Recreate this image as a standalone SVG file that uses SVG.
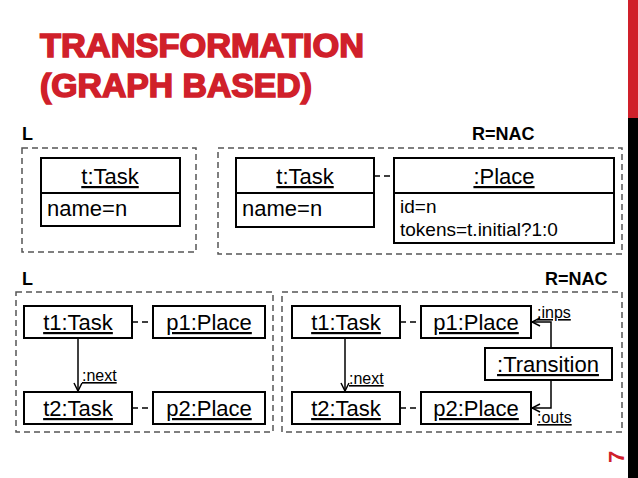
<svg xmlns="http://www.w3.org/2000/svg" width="638" height="478" viewBox="0 0 638 478">
<style>
.t{font-family:"Liberation Sans",Arial,sans-serif;fill:#000}
.n{font-size:22px}
.s{font-size:16px}
.m{font-size:19px}
.b{fill:#fff;stroke:#000;stroke-width:2}
.d{fill:none;stroke:#555;stroke-width:1.5;stroke-dasharray:6,4}
.c{fill:none;stroke:#000;stroke-width:1.5}
.cd{fill:none;stroke:#000;stroke-width:1.5;stroke-dasharray:6,4}
.ttl{font-family:"Liberation Sans",Arial,sans-serif;font-weight:bold;font-size:34px;fill:#d0202a;stroke:#d0202a;stroke-width:1.6}
.lb{font-family:"Liberation Sans",Arial,sans-serif;font-weight:bold;font-size:18px}
</style>
<defs><marker id="a" markerWidth="10" markerHeight="10" refX="9" refY="5" orient="auto" markerUnits="userSpaceOnUse"><path d="M1,1 L9,5 L1,9" fill="none" stroke="#000" stroke-width="1.5"/></marker></defs>
<rect width="638" height="478" fill="#fff"/>
<rect x="628" y="0" width="10" height="118" fill="#d0202a"/>
<rect x="628" y="118" width="10" height="360" fill="#000"/>
<text class="ttl" x="40" y="57" textLength="324" lengthAdjust="spacingAndGlyphs">TRANSFORMATION</text>
<text class="ttl" x="40" y="97" textLength="272" lengthAdjust="spacingAndGlyphs">(GRAPH BASED)</text>
<text x="624" y="463" transform="rotate(-90 624 463)" font-family="Liberation Sans,sans-serif" font-weight="bold" font-size="22" fill="#d0202a">7</text>
<text class="lb" x="22" y="140">L</text>
<text class="lb" x="472" y="140">R=NAC</text>
<text class="lb" x="22" y="285">L</text>
<text class="lb" x="545" y="285">R=NAC</text>
<rect class="d" x="22" y="148" width="174" height="104"/>
<rect class="d" x="218" y="148" width="404" height="106"/>
<rect class="d" x="16" y="292" width="257" height="140"/>
<rect class="d" x="282" y="292" width="340" height="140"/>
<g id="connectors">
<line class="cd" x1="374" y1="176" x2="394" y2="176"/>
<line class="cd" x1="132" y1="322" x2="153" y2="322"/>
<line class="cd" x1="132" y1="408" x2="153" y2="408"/>
<line class="cd" x1="400" y1="322" x2="421" y2="322"/>
<line class="cd" x1="400" y1="408" x2="421" y2="408"/>
<line class="c" x1="78" y1="338" x2="78" y2="391" marker-end="url(#a)"/>
<line class="c" x1="345" y1="338" x2="345" y2="391" marker-end="url(#a)"/>
<path class="c" d="M551,348 V322 H532" marker-end="url(#a)"/>
<path class="c" d="M551,380 V408 H532" marker-end="url(#a)"/>
<text class="t s" x="82" y="381" text-decoration="underline">:next</text>
<text class="t s" x="349" y="384" text-decoration="underline">:next</text>
<text class="t s" x="537" y="318" text-decoration="underline">:inps</text>
<text class="t s" x="537" y="423" text-decoration="underline">:outs</text>
</g>
<g id="task1"><rect class="b" x="41" y="158" width="139" height="35"/><rect class="b" x="41" y="193" width="139" height="33"/>
<text class="t n" x="110" y="184" text-anchor="middle" text-decoration="underline">t:Task</text><text class="t n" x="47" y="216">name=n</text></g>
<g id="task2"><rect class="b" x="236" y="158" width="138" height="35"/><rect class="b" x="236" y="193" width="138" height="34"/>
<text class="t n" x="305" y="184" text-anchor="middle" text-decoration="underline">t:Task</text><text class="t n" x="242" y="216">name=n</text></g>
<g id="place"><rect class="b" x="394" y="158" width="220" height="35"/><rect class="b" x="394" y="193" width="220" height="50"/>
<text class="t n" x="504" y="184" text-anchor="middle" text-decoration="underline">:Place</text><text class="t m" x="400" y="213">id=n</text><text class="t m" x="400" y="236">tokens=t.initial?1:0</text></g>
<g id="l_t1"><rect class="b" x="24" y="306" width="108" height="32"/><text class="t n" x="78" y="330" text-anchor="middle" text-decoration="underline">t1:Task</text></g>
<g id="l_p1"><rect class="b" x="153" y="306" width="112" height="32"/><text class="t n" x="209" y="330" text-anchor="middle" text-decoration="underline">p1:Place</text></g>
<g id="l_t2"><rect class="b" x="24" y="392" width="108" height="32"/><text class="t n" x="78" y="416" text-anchor="middle" text-decoration="underline">t2:Task</text></g>
<g id="l_p2"><rect class="b" x="153" y="392" width="112" height="32"/><text class="t n" x="209" y="416" text-anchor="middle" text-decoration="underline">p2:Place</text></g>
<g id="r_t1"><rect class="b" x="292" y="306" width="108" height="32"/><text class="t n" x="346" y="330" text-anchor="middle" text-decoration="underline">t1:Task</text></g>
<g id="r_p1"><rect class="b" x="421" y="306" width="110" height="32"/><text class="t n" x="476" y="330" text-anchor="middle" text-decoration="underline">p1:Place</text></g>
<g id="r_tr"><rect class="b" x="485" y="348" width="127" height="32"/><text class="t n" x="548" y="372" text-anchor="middle" text-decoration="underline">:Transition</text></g>
<g id="r_t2"><rect class="b" x="292" y="392" width="108" height="32"/><text class="t n" x="346" y="416" text-anchor="middle" text-decoration="underline">t2:Task</text></g>
<g id="r_p2"><rect class="b" x="421" y="392" width="110" height="32"/><text class="t n" x="476" y="416" text-anchor="middle" text-decoration="underline">p2:Place</text></g>
</svg>
